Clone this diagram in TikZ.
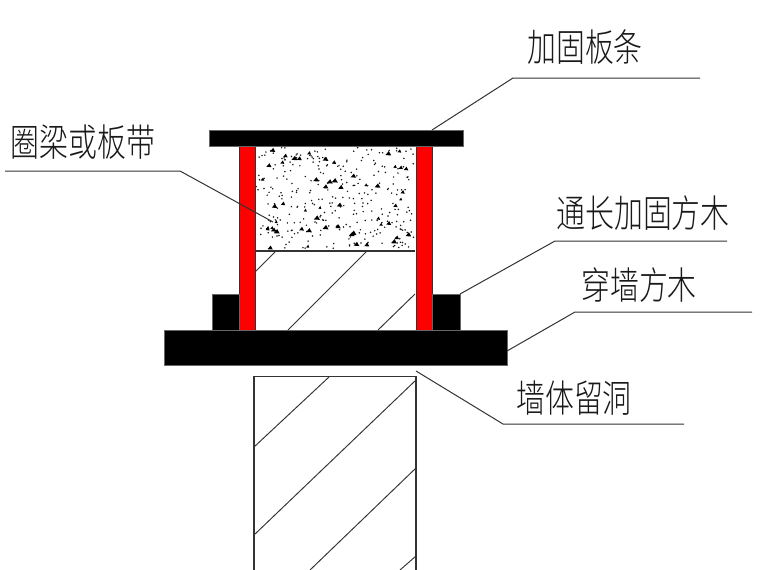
\documentclass[tikz,border=0pt]{standalone}
\usepackage{fontspec}
\setmainfont{Noto Sans CJK SC Light}[FakeStretch=0.76]
\begin{document}
\begin{tikzpicture}[x=1pt,y=-1pt,
  lead/.style={draw=black!80,line width=1pt},
  hatchln/.style={draw=black!80,line width=0.95pt},
  edge/.style={draw=black!80,line width=1.2pt},
  blackpart/.style={fill=black,draw=black!60,line width=0.4pt},
  redpart/.style={fill=red,draw=black!80,line width=0.8pt},
  lab/.style={font=\fontsize{38pt}{38pt}\selectfont,text=black!90,inner sep=0pt,anchor=center}]
\useasboundingbox (0,0) rectangle (760,570);
\fill[white] (0,0) rectangle (760,570);
% wall below the opening
\draw[edge] (254,570) -- (254,376.5) -- (416,376.5) -- (416,570);
\draw[hatchln] (254,447) -- (329,377);
\draw[hatchln] (254,535) -- (416,380);
\draw[hatchln] (310,570) -- (416,468);
\draw[hatchln] (400,570) -- (416,556);
% upper wall
\draw[edge] (255,251) -- (415,251);
\draw[hatchln] (255,272) -- (276,251);
\draw[hatchln] (288,330) -- (367,251);
\draw[hatchln] (378,330) -- (415,294);
% concrete speckle
\pgfmathsetseed{9031}
\foreach \i in {1,...,300}{
  \pgfmathsetmacro{\px}{256+158*rnd}
  \pgfmathsetmacro{\py}{147+103*rnd}
  \fill[black!90] (\px,\py) circle[radius=0.85];
}
\foreach \i in {1,...,55}{
  \pgfmathsetmacro{\px}{258+154*rnd}
  \pgfmathsetmacro{\py}{148+101*rnd}
  \pgfmathsetmacro{\pa}{1.5+1.6*rnd}
  \fill[black] (\px-\pa,\py+1.1) -- (\px+\pa,\py+1.4) -- (\px+0.5,\py-\pa) -- cycle;
}
% timbers
\path[redpart] (239.5,146) rectangle (255,330);
\path[redpart] (416,146) rectangle (432,330);
\path[blackpart] (212.5,294) rectangle (239.5,331);
\path[blackpart] (432,294) rectangle (460,331);
\path[blackpart] (164.5,330) rectangle (507,365);
\path[blackpart] (209,130) rectangle (463,146);
% labels
\node[lab] (l1) at (585,47) {加固板条};
\node[lab] (l2) at (83,142) {圈梁或板带};
\node[lab] (l3) at (643,213) {通长加固方木};
\node[lab] (l4) at (639,285) {穿墙方木};
\node[lab] (l5) at (574,398) {墙体留洞};
% leaders
\coordinate (a1) at (432,130); \coordinate (b1) at (513,78); \coordinate (c1) at (700,78);
\coordinate (a2) at (273,222); \coordinate (b2) at (180,171); \coordinate (c2) at (5,171);
\coordinate (a3) at (460,294); \coordinate (b3) at (555,241); \coordinate (c3) at (727,241);
\coordinate (a4) at (507,351); \coordinate (b4) at (575,312); \coordinate (c4) at (752,312);
\coordinate (a5) at (416,371); \coordinate (b5) at (503,424); \coordinate (c5) at (684,424);
\draw[lead] (a1) -- (b1) -- (c1);
\draw[lead] (a2) -- (b2) -- (c2);
\draw[lead] (a3) -- (b3) -- (c3);
\draw[lead] (a4) -- (b4) -- (c4);
\draw[lead] (a5) -- (b5) -- (c5);
\end{tikzpicture}
\end{document}
